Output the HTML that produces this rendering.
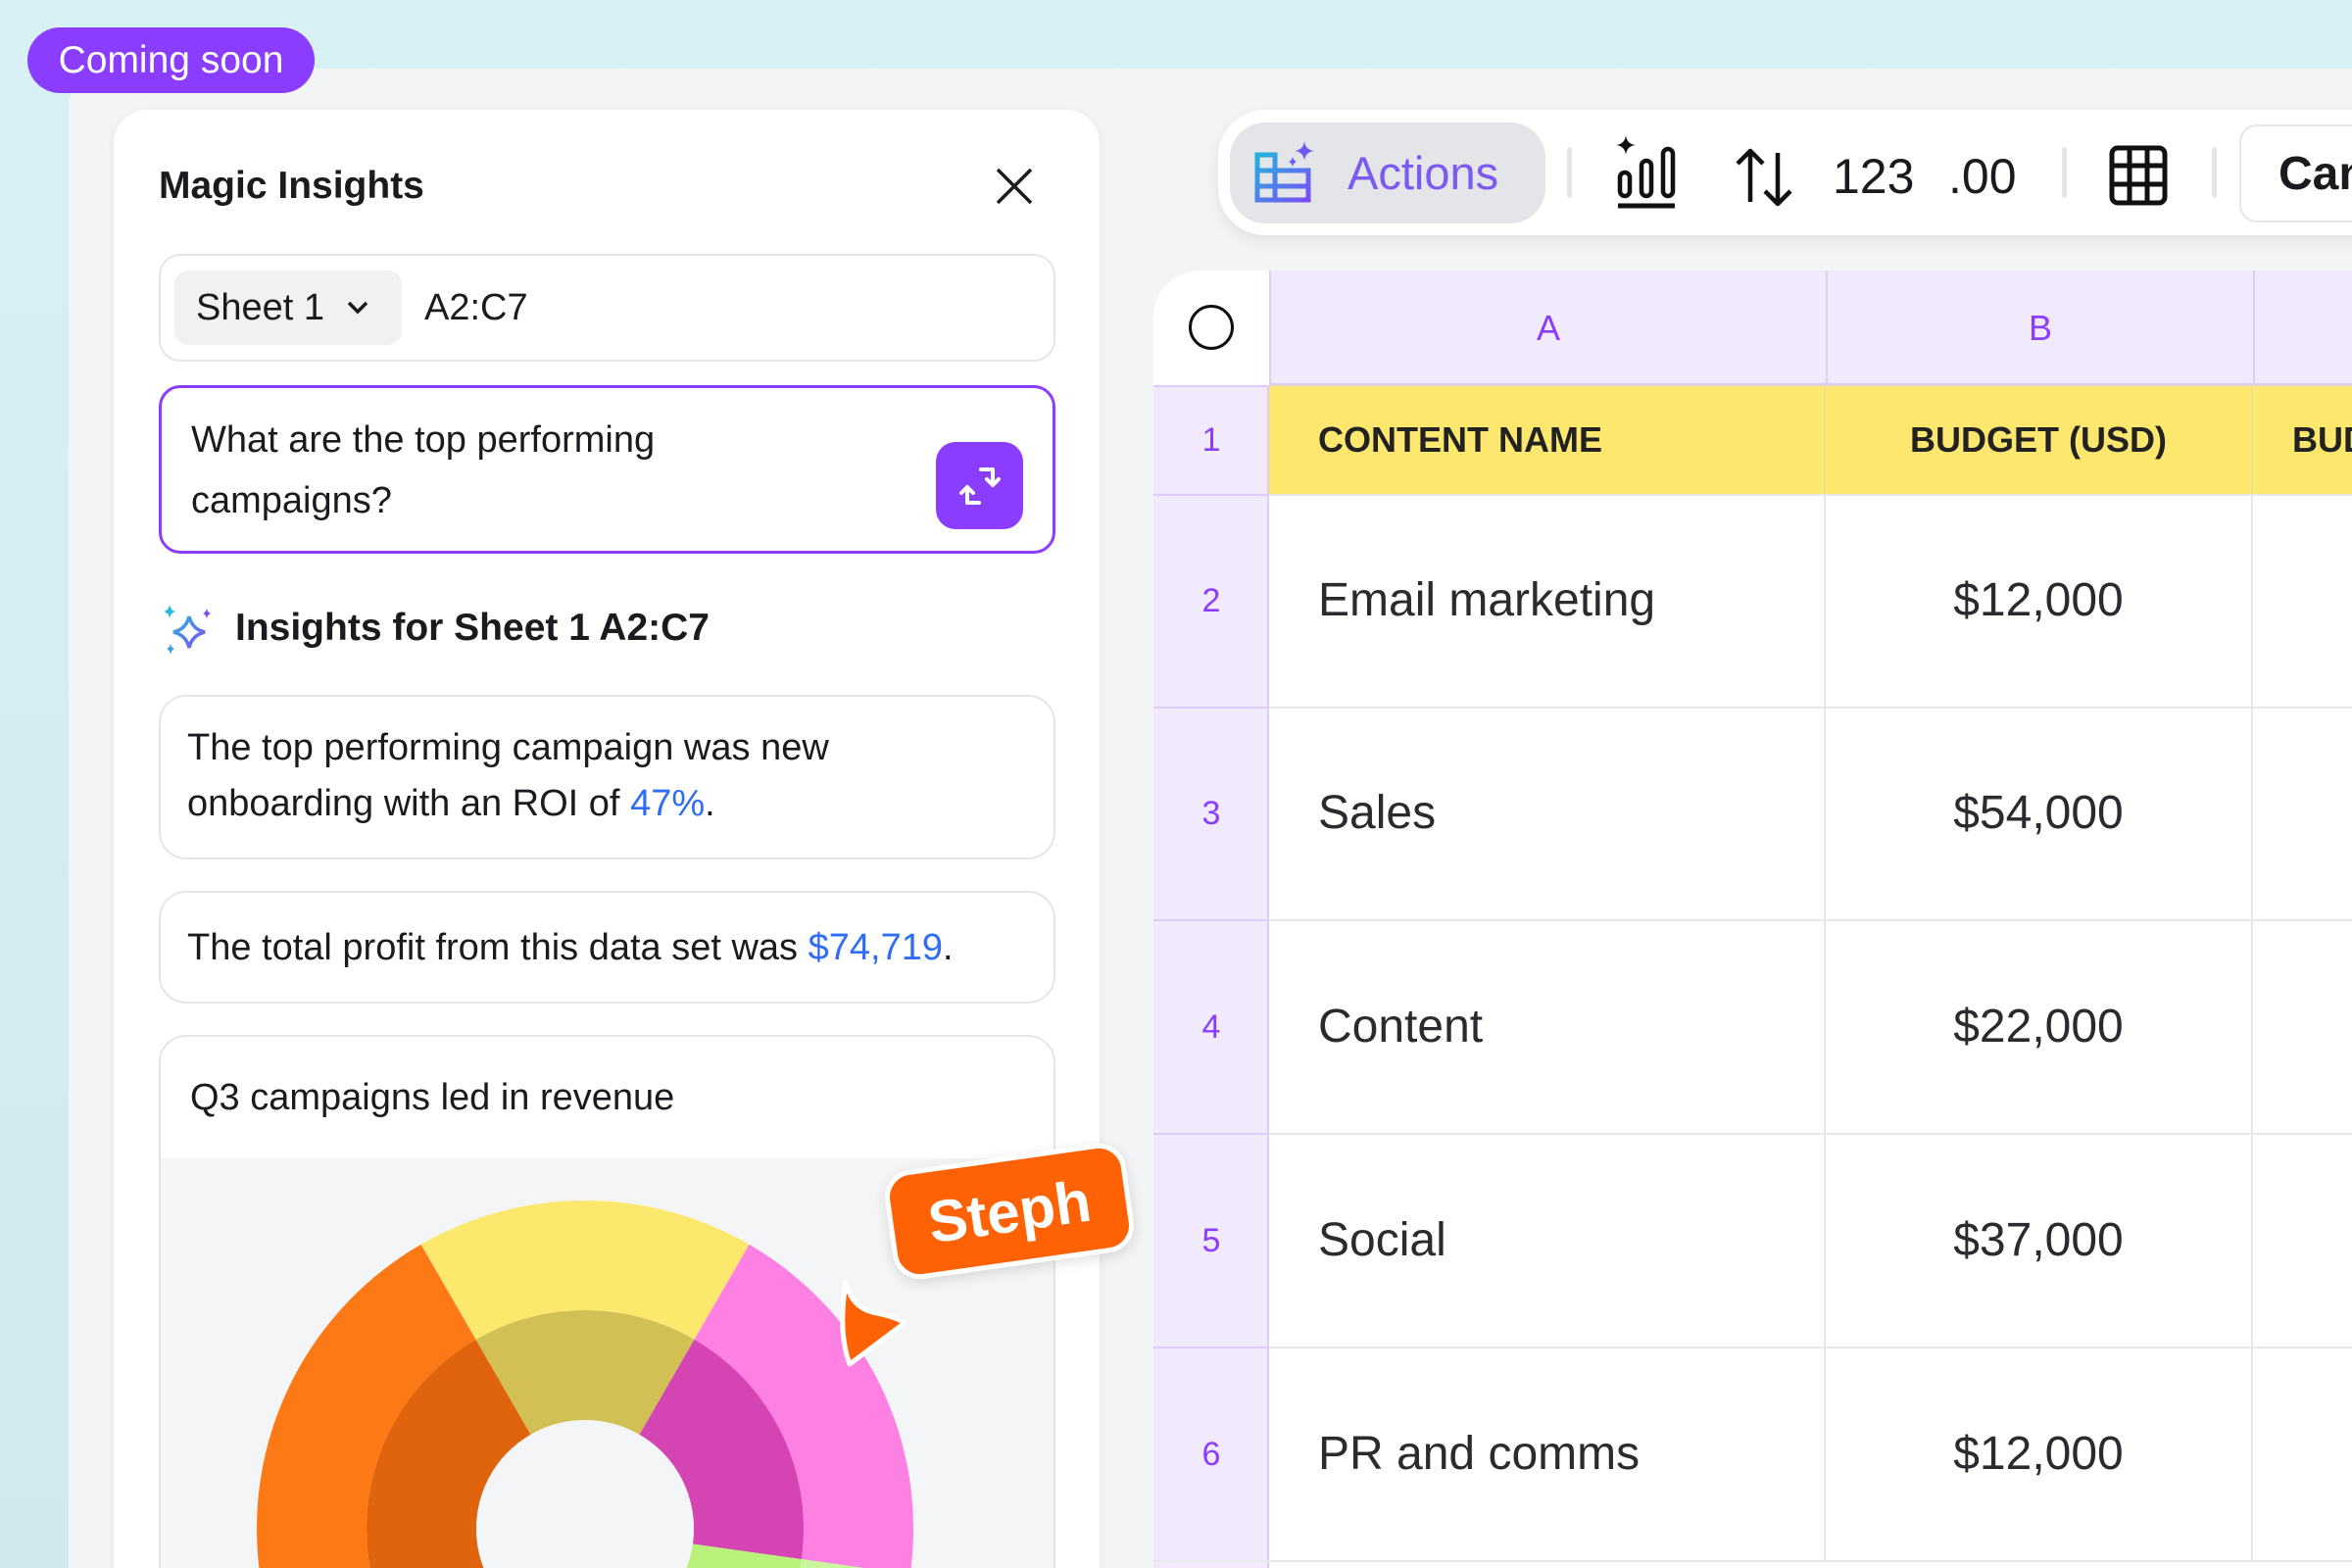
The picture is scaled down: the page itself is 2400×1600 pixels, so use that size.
<!DOCTYPE html>
<html style="width:2400px;height:1600px;overflow:hidden"><head><meta charset="utf-8">
<style>
*{box-sizing:border-box;margin:0;padding:0}
body{width:2400px;height:1600px;overflow:hidden;position:relative;font-family:"Liberation Sans",sans-serif;background:linear-gradient(180deg,#d8f1f5 0%,#cfe9ee 100%);color:#1b1b1f}
.abs{position:absolute}
.fc{display:flex;align-items:center}
#clip{position:absolute;left:0;top:0;width:2400px;height:1600px;overflow:hidden}
</style></head><body>
<div id="clip">
<div class="abs" style="left:70px;top:70px;width:2330px;height:1530px;background:#f3f4f5;border-radius:40px 0 0 0"></div>

<div class="abs fc" style="left:28px;top:28px;width:293px;height:67px;border-radius:34px;background:#8b3dff;color:#fff;font-size:39px;justify-content:center">Coming soon</div>

<!-- Left panel -->
<div class="abs" style="left:116px;top:112px;width:1006px;height:1540px;background:#fff;border-radius:34px;box-shadow:0 2px 10px rgba(0,0,0,0.06)"></div>
<div class="abs fc" style="left:162px;top:165px;height:50px;font-size:39px;font-weight:bold">Magic Insights</div>
<svg class="abs" style="left:1015px;top:170px" width="40" height="40" viewBox="0 0 40 40"><path d="M3 3L37 37M37 3L3 37" stroke="#1b1b1f" stroke-width="3.5"/></svg>

<div class="abs" style="left:162px;top:259px;width:915px;height:110px;border:2.5px solid #e4e5e7;border-radius:22px"></div>
<div class="abs fc" style="left:178px;top:276px;width:232px;height:76px;background:#f0f1f3;border-radius:14px;font-size:38px;padding-left:22px">Sheet 1<svg style="margin-left:22px" width="24" height="16" viewBox="0 0 24 16"><path d="M3 3L12 12L21 3" stroke="#1b1b1f" stroke-width="3.5" fill="none"/></svg></div>
<div class="abs fc" style="left:433px;top:276px;height:76px;font-size:38px">A2:C7</div>

<div class="abs" style="left:162px;top:393px;width:915px;height:172px;border:3px solid #8b3dff;border-radius:22px"></div>
<div class="abs" style="left:195px;top:418px;font-size:38px;line-height:62px;width:560px">What are the top performing campaigns?</div>
<div class="abs fc" style="left:955px;top:451px;width:89px;height:89px;border-radius:20px;background:#8b3dff;justify-content:center">
<svg width="54" height="54" viewBox="0 0 54 54"><path d="M14 44V28M8 34l6-6 6 6" stroke="#fff" stroke-width="4" fill="none" stroke-linecap="round" stroke-linejoin="round"/><path d="M14 44h12" stroke="#fff" stroke-width="4" stroke-linecap="round"/><path d="M28 10h12v16M34 20l6 6 6-6" stroke="#fff" stroke-width="4" fill="none" stroke-linecap="round" stroke-linejoin="round"/></svg></div>

<svg class="abs" style="left:165px;top:615px" width="56" height="56" viewBox="0 0 56 56"><defs><linearGradient id="sg" x1="0" y1="0" x2="1" y2="1"><stop offset="0" stop-color="#2bb6e0"/><stop offset="1" stop-color="#7b4df5"/></linearGradient></defs><path d="M28 14 Q31 27 44 30 Q31 33 28 46 Q25 33 12 30 Q25 27 28 14Z" fill="none" stroke="url(#sg)" stroke-width="3.5"/><path d="M8 2Q9 8 14 9Q9 10 8 16Q7 10 2 9Q7 8 8 2Z" fill="#2bb6e0"/><path d="M46 6Q47 10 50 11Q47 12 46 16Q45 12 42 11Q45 10 46 6Z" fill="#7b4df5"/><path d="M9 42Q10 46 13 47Q10 48 9 53Q8 48 5 47Q8 46 9 42Z" fill="#3b9ee8"/></svg>
<div class="abs fc" style="left:240px;top:615px;height:52px;font-size:39px;font-weight:bold">Insights for Sheet 1 A2:C7</div>

<div class="abs" style="left:162px;top:709px;width:915px;height:168px;border:2.5px solid #e4e5e7;border-radius:28px"></div>
<div class="abs" style="left:191px;top:735px;font-size:38px;line-height:57px;width:860px">The top performing campaign was new<br>onboarding with an ROI of <span style="color:#2f6df6">47%</span>.</div>

<div class="abs" style="left:162px;top:909px;width:915px;height:115px;border:2.5px solid #e4e5e7;border-radius:28px"></div>
<div class="abs fc" style="left:191px;top:939px;height:57px;font-size:38px">The total profit from this data set was&nbsp;<span style="color:#2f6df6">$74,719</span>.</div>

<div class="abs" style="left:162px;top:1056px;width:915px;height:600px;border:2.5px solid #e4e5e7;border-radius:28px;overflow:hidden;background:#fff">
 <div style="position:absolute;left:0;top:124px;width:100%;height:500px;background:#f4f5f6"></div>
</div>
<div class="abs fc" style="left:194px;top:1092px;height:56px;font-size:38px">Q3 campaigns led in revenue</div>

<svg class="abs" id="donut" style="left:165px;top:1182px" width="909" height="418"></svg>

<div class="abs fc" style="left:906px;top:1180px;width:248px;height:112px;background:#ff6105;border:5px solid #fff;border-radius:28px;color:#fff;font-size:60px;font-weight:bold;justify-content:center;transform:rotate(-8deg);box-shadow:0 4px 14px rgba(0,0,0,0.12)">Steph</div>
<svg class="abs" style="left:845px;top:1300px" width="90" height="100" viewBox="0 0 90 100"><path d="M18 8 Q24 36 50 40 Q70 44 78 50 L22 92 Q10 60 18 8Z" fill="#ff6105" stroke="#fff" stroke-width="5" stroke-linejoin="round"/></svg>

<!-- Toolbar -->
<div class="abs" style="left:1243px;top:112px;width:1200px;height:128px;background:#fff;border-radius:48px 0 0 48px;box-shadow:0 6px 16px rgba(0,0,0,0.08)"></div>
<div class="abs fc" style="left:1255px;top:125px;width:322px;height:103px;background:#e3e5e8;border-radius:36px">
 <svg style="margin-left:24px" width="64" height="66" viewBox="0 0 64 66"><defs><linearGradient id="ag" x1="0" y1="0" x2="1" y2="1"><stop offset="0" stop-color="#21b3dc"/><stop offset="1" stop-color="#7a4df7"/></linearGradient></defs><path d="M4 14h18v46H4zM4 30h52v30H22M4 46h52M22 14v46" fill="none" stroke="url(#ag)" stroke-width="5"/><path d="M52 0Q53 9 62 10Q53 11 52 20Q51 11 42 10Q51 9 52 0Z" fill="#6a5bf3"/><path d="M40 16Q41 20 44 21Q41 22 40 26Q39 22 36 21Q39 20 40 16Z" fill="#6a5bf3"/></svg>
 <span style="margin-left:32px;font-size:47px;color:#7b5af2">Actions</span></div>
<div class="abs" style="left:1599px;top:150px;width:5px;height:52px;background:#e4e5e7;border-radius:3px"></div>
<svg class="abs" style="left:1645px;top:138px" width="68" height="82" viewBox="0 0 68 82"><path d="M14 0Q15 9 24 10Q15 11 14 20Q13 11 4 10Q13 9 14 0Z" fill="#111"/><rect x="8" y="38" width="10" height="24" rx="5" fill="none" stroke="#111" stroke-width="4.5"/><rect x="30" y="26" width="10" height="36" rx="5" fill="none" stroke="#111" stroke-width="4.5"/><rect x="52" y="14" width="10" height="48" rx="5" fill="none" stroke="#111" stroke-width="4.5"/><path d="M6 72h58" stroke="#111" stroke-width="5"/></svg>
<svg class="abs" style="left:1768px;top:150px" width="64" height="62" viewBox="0 0 64 62"><path d="M18 56V4M5 17L18 4L31 17M46 6v52M33 45l13 13 13-13" fill="none" stroke="#111" stroke-width="4.5" stroke-linejoin="round"/></svg>
<div class="abs fc" style="left:1870px;top:150px;height:60px;font-size:50px">123</div>
<div class="abs fc" style="left:1988px;top:150px;height:60px;font-size:50px">.00</div>
<div class="abs" style="left:2104px;top:150px;width:5px;height:52px;background:#e4e5e7;border-radius:3px"></div>
<svg class="abs" style="left:2152px;top:148px" width="60" height="62" viewBox="0 0 60 62"><rect x="3" y="3" width="54" height="56" rx="6" fill="none" stroke="#111" stroke-width="5"/><path d="M21 3v56M39 3v56M3 21h54M3 40h54" stroke="#111" stroke-width="5"/></svg>
<div class="abs" style="left:2257px;top:150px;width:5px;height:52px;background:#e4e5e7;border-radius:3px"></div>
<div class="abs fc" style="left:2285px;top:127px;width:200px;height:100px;border:2.5px solid #e4e5e7;border-radius:18px;font-size:48px;font-weight:bold;padding-left:38px">Cancel</div>

<!-- Table -->
<div class="abs" id="table" style="left:1177px;top:276px;width:1223px;height:1324px;background:#fff;border-radius:48px 0 0 0;overflow:hidden"></div>
</div>

<script>
// ---- Table data ----
const rowNums=["1","2","3","4","5","6"];
const names=["CONTENT NAME","Email marketing","Sales","Content","Social","PR and comms"];
const budgets=["BUDGET (USD)","$12,000","$54,000","$22,000","$37,000","$12,000"];
const t=document.getElementById('table');
const colX=[0,118,686,1122,1400];
const rowY=[0,117,228,445,662,880,1098,1316];
function add(parent,css,html){const d=document.createElement('div');d.style.cssText='position:absolute;'+css;if(html!==undefined)d.innerHTML=html;parent.appendChild(d);return d;}
let e;
e=add(t,`left:0;top:0;width:118px;height:117px;background:#fff`);


e=add(t,`left:36px;top:35px;width:46px;height:46px;border:3.5px solid #111;border-radius:50%`);


e=add(t,`left:118px;top:0;width:1300px;height:117px;background:#f1eafd;border-bottom:2px solid #dccbfb;border-left:2px solid #dccbfb`);


e=add(t,`left:0;top:117px;width:118px;height:1400px;background:#f1eafd;border-right:2.5px solid #dccbfb`);


const colLetters=["A","B","C"];
for(let i=0;i<3;i++){
  e=add(t,`left:${colX[i+1]}px;top:0;width:${colX[i+2]-colX[i+1]}px;height:117px;display:flex;align-items:center;justify-content:center;color:#8b3dff;font-size:36px;border-left:2px solid #dccbfb`,colLetters[i]);
  
  
}
e=add(t,`left:118px;top:117px;width:1300px;height:111px;background:#fde76e`);


for(let r=0;r<rowNums.length;r++){
  const y=rowY[r+1],h=rowY[r+2]-y,hdr=r===0;
  e=add(t,`left:0;top:${y}px;width:118px;height:${h}px;display:flex;align-items:center;justify-content:center;color:#8b3dff;font-size:34px;border-top:2px solid #dccbfb`,rowNums[r]);
  
  
  e=add(t,`left:118px;top:${y}px;width:1300px;height:${h}px;border-top:2px solid ${hdr?'#ecdf9a':'#e8e8ea'}`);
  
  
  e=add(t,`left:${colX[1]}px;top:${y}px;width:${colX[2]-colX[1]}px;height:${h}px;display:flex;align-items:center;padding-left:50px;font-size:${hdr?36:48}px;${hdr?'font-weight:bold;color:#222':'color:#2b2b2f'};border-right:2px solid ${hdr?'#ecdf9a':'#e8e8ea'}`,names[r]);
  
  
  e=add(t,`left:${colX[2]}px;top:${y}px;width:${colX[3]-colX[2]}px;height:${h}px;display:flex;align-items:center;justify-content:center;font-size:${hdr?36:48}px;${hdr?'font-weight:bold;color:#222':'color:#2b2b2f'};border-right:2px solid ${hdr?'#ecdf9a':'#e8e8ea'}`,budgets[r]);
  
  
}
e=add(t,`left:${colX[3]+40}px;top:${rowY[1]}px;height:111px;display:flex;align-items:center;font-size:36px;font-weight:bold;color:#222;white-space:nowrap`,'BUDGET');


e=add(t,`left:0;top:${rowY[7]}px;width:1400px;height:2px;background:#e8e8ea`);


</script>

<script>
// ---- Sunburst data (clockwise from start angle) ----
const segCategories=["Q2","Q3","Q4","Q1"];
const segValues=[60,68,102,130];
const outerColors=["#fde86e","#fd80e2","#c8f79e","#fd7916"];
const innerColors=["#d2c055","#d444b3","#b8f27a","#e0640e"];
const svg=document.getElementById('donut');
const NS='http://www.w3.org/2000/svg';
const cx=432,cy=378,rOuter=335,rMid=223,rHole=111,startDeg=-30;
const total=segValues.reduce((a,b)=>a+b,0);
function ang(v){return (startDeg+v/total*360)*Math.PI/180;}
function pt(r,a){return [cx+r*Math.sin(a),cy-r*Math.cos(a)];}
function arc(r0,r1,a0,a1){
  const large=(a1-a0)>Math.PI?1:0;
  const p0=pt(r1,a0),p1=pt(r1,a1),p2=pt(r0,a1),p3=pt(r0,a0);
  return `M${p0}A${r1},${r1} 0 ${large} 1 ${p1}L${p2}A${r0},${r0} 0 ${large} 0 ${p3}Z`;
}
let acc=0;
for(let i=0;i<segValues.length;i++){
  const a0=ang(acc),a1=ang(acc+segValues[i]);acc+=segValues[i];
  let p=document.createElementNS(NS,'path');
  p.setAttribute('d',arc(rMid,rOuter,a0,a1));p.setAttribute('fill',outerColors[i]);
  
  
  svg.appendChild(p);
  p=document.createElementNS(NS,'path');
  p.setAttribute('d',arc(rHole,rMid,a0,a1));p.setAttribute('fill',innerColors[i]);
  
  
  svg.appendChild(p);
}
const hole=document.createElementNS(NS,'circle');
hole.setAttribute('cx',cx);hole.setAttribute('cy',cy);hole.setAttribute('r',rHole);hole.setAttribute('fill','#f4f5f6');


svg.appendChild(hole);
</script>
</body></html>
